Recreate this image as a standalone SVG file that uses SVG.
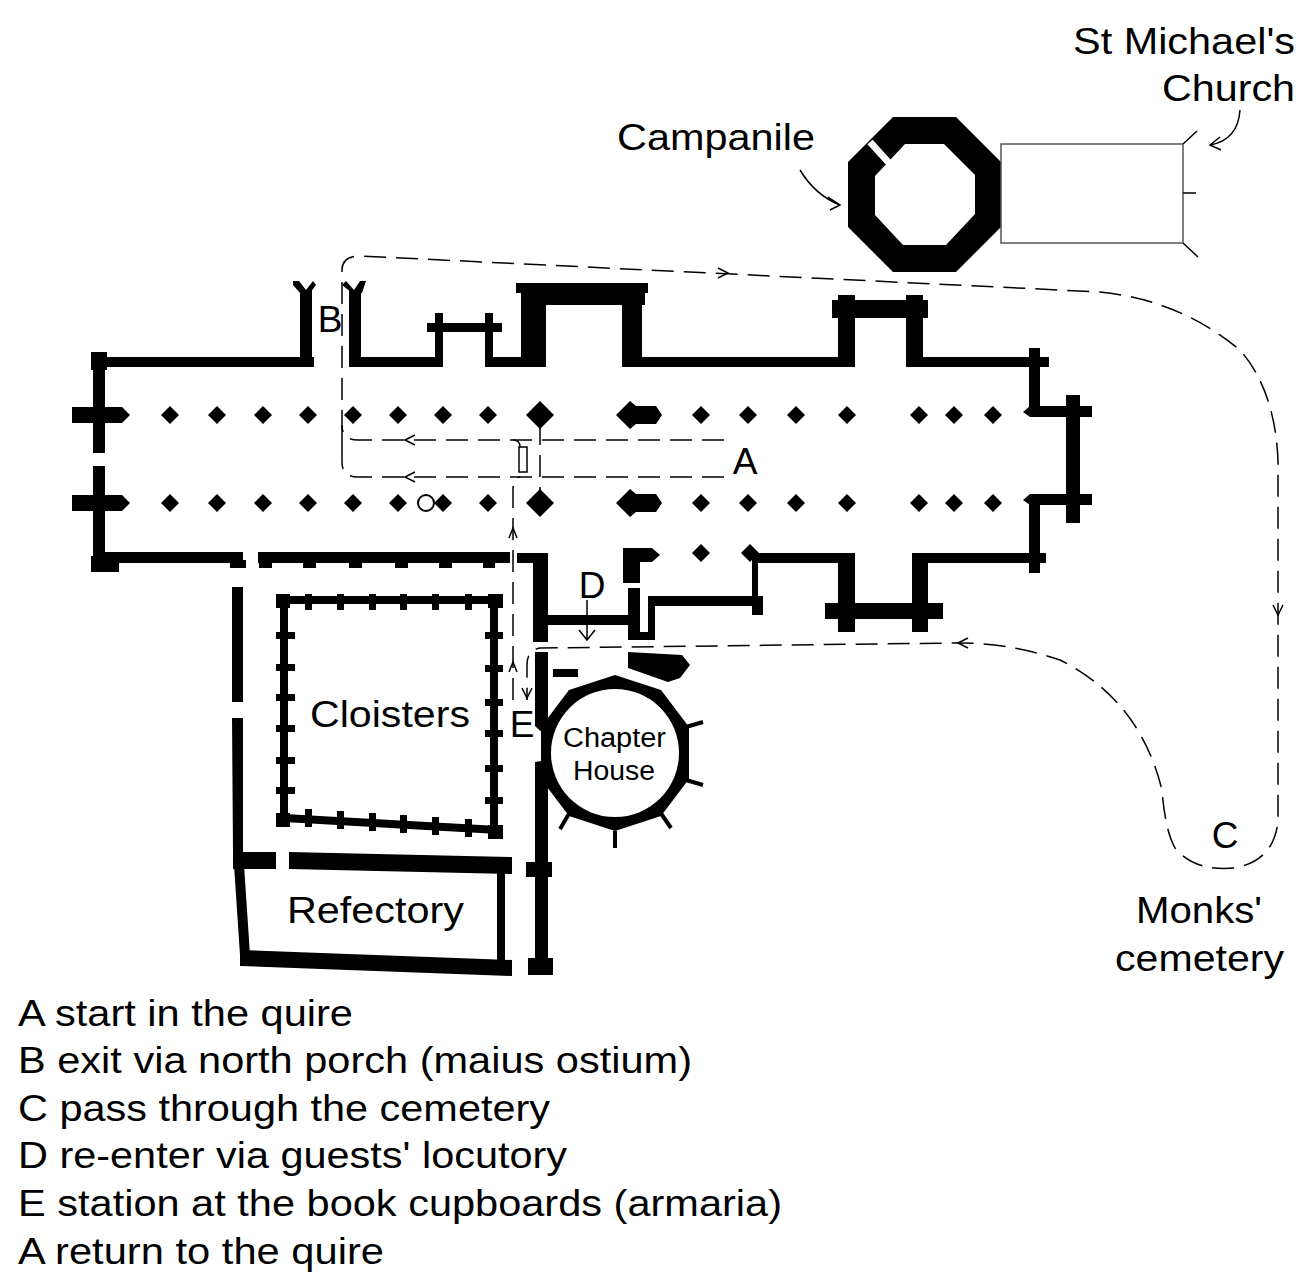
<svg xmlns="http://www.w3.org/2000/svg" width="1311" height="1280" viewBox="0 0 1311 1280">
<style>
text{font-family:"Liberation Sans",Arial,sans-serif;fill:#000}
.w{fill:#000}
.d{fill:none;stroke:#000;stroke-width:1.5;stroke-dasharray:22 10}
.s{fill:none;stroke:#000;stroke-width:1.5}
.lg{font-size:36px}
.lb{font-size:37px}
</style>
<defs>
<path id="dm" d="M0,-9L9,0L0,9L-9,0Z"/>
<path id="dl" d="M0,-14L14,0L0,14L-14,0Z"/>
<path id="pe" d="M0,0L14,-14L20,-9L40,-9L46,0L40,9L20,9L14,14Z"/>
</defs>
<rect width="1311" height="1280" fill="#fff"/>
<g id="campanile">
<path class="w" fill-rule="evenodd" d="M893,117L956,117L1001,162L1001,227L956,272L893,272L848,227L848,162Z M905,144L944,144L975,175L975,214L946,245L903,245L875,215L875,176Z"/>
<line x1="870" y1="142" x2="890" y2="164" stroke="#fff" stroke-width="7"/>
</g>
<g id="st-michaels">
<rect x="1001" y="144" width="182" height="99" fill="none" stroke="#555" stroke-width="1.5"/>
<path class="s" stroke="#555" d="M1183,144L1197,131M1183,193L1196,193M1183,243L1198,257"/>
</g>
<g id="church" class="w">
<rect x="93" y="352" width="12" height="101"/><rect x="93" y="466" width="12" height="106"/>
<rect x="91" y="352" width="16" height="18"/><rect x="91" y="556" width="28" height="16"/>
<path d="M72,407L122,407L130,415L122,423L72,423Z"/><path d="M72,495L122,495L130,503L122,511L72,511Z"/>
<rect x="93" y="357" width="221" height="10"/>
<rect x="300" y="290" width="12" height="77"/><path d="M293,281L299,281L306,290L313,281L316,285L310,293L300,293L293,285Z"/>
<rect x="349" y="290" width="12" height="77"/><path d="M342,285L346,281L354,290L360,281L366,281L362,293L352,293Z"/>
<rect x="349" y="357" width="93" height="10"/>
<rect x="435" y="313" width="8" height="54"/><rect x="485" y="313" width="8" height="54"/>
<rect x="427" y="323" width="75" height="9"/>
<rect x="485" y="357" width="45" height="10"/>
<rect x="521" y="283" width="25" height="84"/><rect x="521" y="283" width="124" height="22"/>
<rect x="622" y="283" width="20" height="84"/><rect x="516" y="283" width="20" height="10"/><rect x="628" y="283" width="20" height="10"/>
<rect x="642" y="357" width="213" height="10"/>
<rect x="838" y="295" width="17" height="72"/><rect x="832" y="300" width="96" height="18"/>
<rect x="906" y="295" width="17" height="72"/>
<rect x="923" y="357" width="126" height="10"/>
<rect x="1029" y="348" width="11" height="62"/>
<path d="M1023,412L1030,406L1092,406L1092,417L1030,417Z"/>
<rect x="1066" y="395" width="14" height="128"/>
<path d="M1023,500L1030,494L1092,494L1092,505L1030,505Z"/>
<rect x="1029" y="496" width="11" height="77"/>
<rect x="922" y="553" width="124" height="10"/>
<rect x="838" y="553" width="17" height="79"/><rect x="912" y="553" width="16" height="79"/>
<rect x="825" y="603" width="118" height="16"/>
<rect x="752" y="553" width="103" height="10"/>
<rect x="752" y="553" width="6" height="62"/>
<rect x="648" y="596" width="115" height="10"/><rect x="755" y="596" width="8" height="19"/>
<path d="M623,548L652,548L660,555L652,562L640,562L640,583L623,583Z"/>
<rect x="628" y="588" width="12" height="52"/><rect x="648" y="596" width="7" height="44"/><rect x="628" y="632" width="27" height="8"/>
<rect x="93" y="552" width="150" height="11"/><rect x="258" y="552" width="252" height="11"/>
<rect x="230" y="560" width="16" height="8"/><rect x="259" y="560" width="13" height="8"/><rect x="303" y="560" width="13" height="8"/><rect x="349" y="560" width="13" height="8"/><rect x="395" y="560" width="13" height="8"/><rect x="439" y="560" width="13" height="8"/><rect x="483" y="560" width="12" height="8"/>
<rect x="517" y="553" width="31" height="10"/><rect x="533" y="553" width="15" height="89"/>
<rect x="548" y="615" width="80" height="10"/><rect x="600" y="615" width="28" height="10"/>
</g>
<g id="columns" class="w">
<use href="#dm" x="170" y="415"/><use href="#dm" x="217" y="415"/><use href="#dm" x="263" y="415"/><use href="#dm" x="308" y="415"/><use href="#dm" x="353" y="415"/><use href="#dm" x="398" y="415"/><use href="#dm" x="443" y="415"/><use href="#dm" x="488" y="415"/><use href="#dl" x="540" y="415"/><use href="#pe" x="616" y="415"/>
<use href="#dm" x="701" y="415"/><use href="#dm" x="748" y="415"/><use href="#dm" x="796" y="415"/><use href="#dm" x="847" y="415"/><use href="#dm" x="919" y="415"/><use href="#dm" x="954" y="415"/><use href="#dm" x="993" y="415"/>
<use href="#dm" x="170" y="503"/><use href="#dm" x="217" y="503"/><use href="#dm" x="263" y="503"/><use href="#dm" x="308" y="503"/><use href="#dm" x="353" y="503"/><use href="#dm" x="398" y="503"/><use href="#dm" x="443" y="503"/><use href="#dm" x="488" y="503"/><use href="#dl" x="540" y="503"/><use href="#pe" x="616" y="503"/>
<use href="#dm" x="701" y="503"/><use href="#dm" x="748" y="503"/><use href="#dm" x="796" y="503"/><use href="#dm" x="847" y="503"/><use href="#dm" x="919" y="503"/><use href="#dm" x="954" y="503"/><use href="#dm" x="993" y="503"/>
<use href="#dm" x="701" y="553"/><use href="#dm" x="750" y="553"/>
<circle cx="426" cy="503" r="8" fill="#fff" stroke="#000" stroke-width="2"/>
<rect x="519" y="447" width="8" height="25" fill="#fff" stroke="#000" stroke-width="1.5"/>
</g>
<g id="cloisters" class="w">
<rect x="280" y="596" width="222" height="8"/><rect x="280" y="596" width="8" height="226"/><rect x="490" y="596" width="8" height="236"/>
<path d="M284,814L498,826L498,834L284,822Z"/>
<rect x="276" y="594" width="14" height="14"/><rect x="488" y="594" width="15" height="14"/><rect x="276" y="813" width="14" height="14"/><rect x="488" y="825" width="15" height="14"/>
<rect x="305" y="594" width="7" height="16"/><rect x="337" y="594" width="7" height="16"/><rect x="369" y="594" width="7" height="16"/><rect x="400" y="594" width="7" height="16"/><rect x="432" y="594" width="7" height="16"/><rect x="465" y="594" width="7" height="16"/>
<rect x="305" y="809" width="7" height="18"/><rect x="337" y="811" width="7" height="18"/><rect x="369" y="813" width="7" height="18"/><rect x="400" y="815" width="7" height="18"/><rect x="432" y="817" width="7" height="18"/><rect x="465" y="819" width="7" height="18"/>
<rect x="276" y="632" width="19" height="7"/><rect x="276" y="664" width="19" height="7"/><rect x="276" y="694" width="19" height="7"/><rect x="276" y="725" width="19" height="7"/><rect x="276" y="757" width="19" height="7"/><rect x="276" y="787" width="19" height="7"/>
<rect x="485" y="632" width="18" height="7"/><rect x="485" y="665" width="18" height="7"/><rect x="485" y="699" width="18" height="7"/><rect x="485" y="730" width="18" height="7"/><rect x="485" y="765" width="18" height="7"/><rect x="485" y="797" width="18" height="7"/>
<rect x="232" y="587" width="11" height="115"/>
<path d="M232,718L243,718L243,850L250,955L240,955L233,850Z"/>
</g>
<g id="refectory" class="w">
<rect x="233" y="852" width="43" height="17"/><path d="M289,852L512,857L512,874L289,869Z"/>
<rect x="497" y="868" width="8" height="96"/>
<path d="M240,950L512,960L512,976L240,966Z"/>
</g>
<g id="chapter-house">
<path class="w" d="M535,652L548,652L548,738L535,726Z M535,762L548,760L548,975L535,975Z"/>
<rect class="w" x="526" y="862" width="26" height="15"/><rect class="w" x="528" y="958" width="25" height="17"/>
<polygon class="w" points="615,675 661,690 689,727 689,779 661,816 615,831 569,816 541,779 541,727 569,690"/>
<circle cx="615" cy="753" r="64" fill="#fff"/>
<path class="w" d="M553,669L578,669L578,677L553,677Z M628,652L682,655L690,665L680,678L668,682L628,668Z"/>
<path d="M686,727L703,722M686,780L703,785M660,812L671,828M615,831L615,848M570,812L560,829" stroke="#000" stroke-width="4"/>
</g>
<g id="connectors">
<path class="d" d="M724,440L358,440Q342,440 342,425L342,270Q342,256 360,256L1100,292Q1180,300 1240,350Q1275,390 1278,460L1278,820Q1275,860 1235,868Q1195,872 1175,848Q1165,830 1162,790Q1140,700 1060,660Q1010,643 960,643L540,648Q527,650 527,665L527,700"/>
<path class="d" d="M724,477L358,477Q342,477 342,462"/>
<path class="s" d="M342,425L342,462"/>
<path class="d" d="M513,700L513,490Q513,477 520,477M513,440Q520,440 520,447"/>
<path class="d" d="M540,423L540,495"/>
<path class="s" d="M587,600L587,640M579,630L587,640L595,630"/>
<path class="s" d="M415,435L405,440L415,445M415,472L405,477L415,482M718,268L728,273L718,278M968,638L958,643L968,648M1273,605L1278,615L1283,605M509,538L513,528L517,538M509,672L513,662L517,672M522,688L527,698L532,688"/>
<path class="s" d="M800,170Q815,195 840,205M828,197L840,205L830,210"/>
<path class="s" d="M1240,110Q1238,140 1210,145M1220,137L1210,145L1221,150"/>
</g>
<g id="labels">
<text class="lb" x="1073" y="54" textLength="222" lengthAdjust="spacingAndGlyphs">St Michael's</text>
<text class="lb" x="1162" y="101" textLength="133" lengthAdjust="spacingAndGlyphs">Church</text>
<text class="lb" x="617" y="150" textLength="198" lengthAdjust="spacingAndGlyphs">Campanile</text>
<text class="lb" x="1136" y="923" textLength="126" lengthAdjust="spacingAndGlyphs">Monks'</text>
<text class="lb" x="1115" y="971" textLength="169" lengthAdjust="spacingAndGlyphs">cemetery</text>
<text class="lb" x="1225" y="848" text-anchor="middle">C</text>
<text class="lb" x="745" y="474" text-anchor="middle">A</text>
<text class="lb" x="330" y="332" text-anchor="middle">B</text>
<text class="lb" x="592" y="598" text-anchor="middle">D</text>
<text class="lb" x="522" y="737" text-anchor="middle">E</text>
<text class="lb" x="310" y="727" textLength="160" lengthAdjust="spacingAndGlyphs">Cloisters</text>
<text class="lb" x="287" y="923" textLength="177" lengthAdjust="spacingAndGlyphs">Refectory</text>
<text x="563" y="747" font-size="27" textLength="103" lengthAdjust="spacingAndGlyphs">Chapter</text>
<text x="573" y="780" font-size="27" textLength="82" lengthAdjust="spacingAndGlyphs">House</text>
<text class="lg" x="18" y="1026" textLength="335" lengthAdjust="spacingAndGlyphs">A start in the quire</text>
<text class="lg" x="18" y="1073" textLength="674" lengthAdjust="spacingAndGlyphs">B exit via north porch (maius ostium)</text>
<text class="lg" x="18" y="1121" textLength="532" lengthAdjust="spacingAndGlyphs">C pass through the cemetery</text>
<text class="lg" x="18" y="1168" textLength="549" lengthAdjust="spacingAndGlyphs">D re-enter via guests' locutory</text>
<text class="lg" x="18" y="1216" textLength="764" lengthAdjust="spacingAndGlyphs">E station at the book cupboards (armaria)</text>
<text class="lg" x="18" y="1264" textLength="366" lengthAdjust="spacingAndGlyphs">A return to the quire</text>
</g>
</svg>
